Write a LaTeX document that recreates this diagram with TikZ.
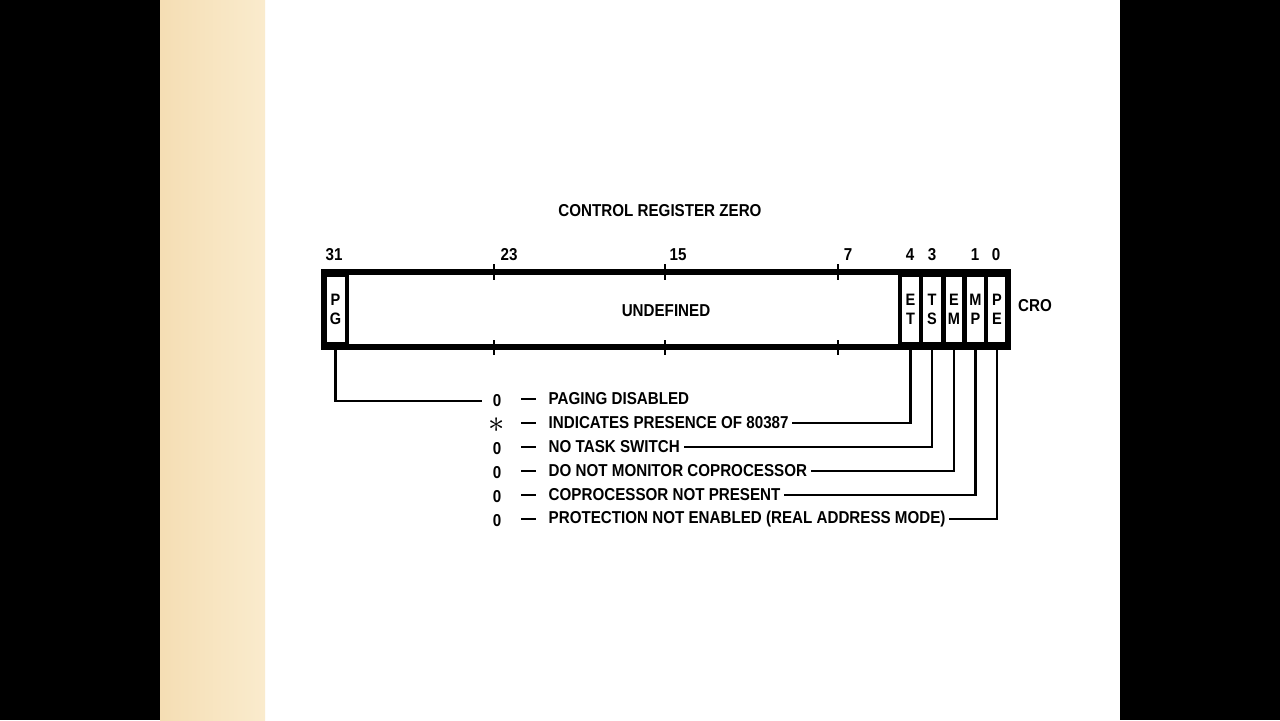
\documentclass[tikz,border=0pt]{standalone}
\usepackage{fontspec}
\setmainfont{Liberation Sans}[FakeStretch=0.88]
\newcommand\mystar{\raisebox{-0.3ex}{\fontsize{9}{9}\selectfont$\ast$}}
\begin{document}
\begin{tikzpicture}[x=0.01cm,y=-0.01cm,
  lbl/.style={font=\fontsize{4.9}{5.5}\selectfont\bfseries,inner sep=0pt},
  cell/.style={draw,line width=1.3pt,minimum height=70*0.01cm,inner sep=0pt,align=center,font=\fontsize{4.7}{5.3}\selectfont\bfseries},
  lead/.style={line width=0.6pt}]
\useasboundingbox (0,0) rectangle (1280,720);
\fill[black] (0,0) rectangle (160,720);
\fill[black] (1120,0) rectangle (1280,720);
\fill[white] (265,0) rectangle (1120,720);
\fill[left color={rgb,255:red,245;green,222;blue,180},right color={rgb,255:red,250;green,235;blue,205}] (160,0) rectangle (265,720);
% register
\node[draw,line width=1.7pt,minimum width=684*0.01cm,minimum height=75*0.01cm,inner sep=0pt] (box) at (666,309.5) {};
\node[cell,minimum width=23*0.01cm] (pg) at (335.5,309.5) {P\\G};
\node[cell,minimum width=21*0.01cm] (et) at (910.5,309.5) {E\\T};
\node[cell,minimum width=22*0.01cm] (ts) at (932,309.5) {T\\S};
\node[cell,minimum width=21*0.01cm] (em) at (954,309.5) {E\\M};
\node[cell,minimum width=21*0.01cm] (mp) at (975.5,309.5) {M\\P};
\node[cell,minimum width=22*0.01cm] (pe) at (997,309.5) {P\\E};
\node[lbl] (und) at (666,311) {UNDEFINED};
\node[lbl] (cro) at (1035,306) {CRO};
\node[lbl] (title) at (660,211) {CONTROL REGISTER ZERO};
\foreach \x in {494,665,838}{
  \draw[line width=0.5pt] (\x,264) -- (\x,280);
  \draw[line width=0.5pt] (\x,340) -- (\x,355);}
\foreach \t/\x in {31/334,23/509,15/678,7/848,4/910,3/932,1/975,0/996}
  \node[lbl] (b\t) at (\x,255) {\t};
% descriptions
\foreach \n/\y/\v/\s in {0/399/0/PAGING DISABLED,1/423/\mystar/INDICATES PRESENCE OF 80387,2/447/0/NO TASK SWITCH,3/471/0/DO NOT MONITOR COPROCESSOR,4/495/0/COPROCESSOR NOT PRESENT,5/519/0/PROTECTION NOT ENABLED (REAL ADDRESS MODE)}{
  \node[lbl] (v\n) at (497,\y+2) {\v};
  \draw[line width=0.7pt] (521,\y) -- (536,\y);
  \node[lbl,anchor=west] (t\n) at (548,\y) {\s};}
\draw[lead] (pg.south) |- ([xshift=-0.1cm]v0.west);
\draw[lead] (et.south) |- ([xshift=0.03cm]t1.east);
\draw[lead] (ts.south) |- ([xshift=0.03cm]t2.east);
\draw[lead] (em.south) |- ([xshift=0.03cm]t3.east);
\draw[lead] (mp.south) |- ([xshift=0.03cm]t4.east);
\draw[lead] (pe.south) |- ([xshift=0.03cm]t5.east);
\end{tikzpicture}
\end{document}
